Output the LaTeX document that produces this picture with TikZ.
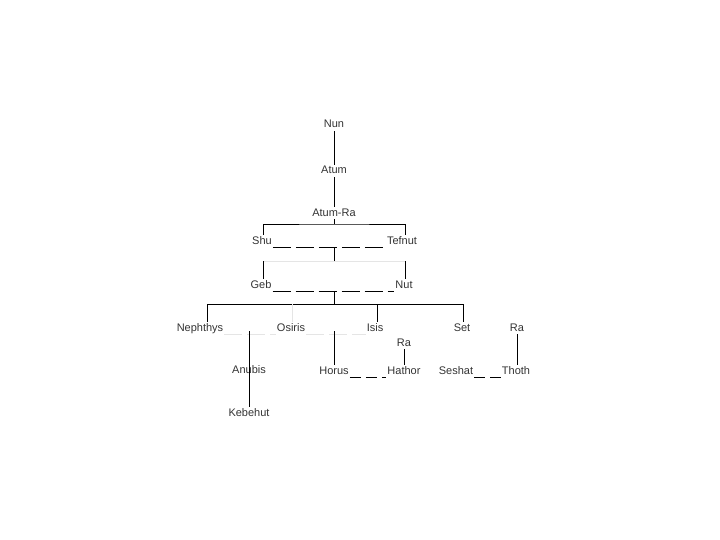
\documentclass[tikz,border=0pt]{standalone}
\usepackage{fontspec}
\setmainfont{Liberation Sans}
\begin{document}
\begin{tikzpicture}[x=1pt,y=-1pt,
  god/.style={inner sep=1pt, text height=8pt, text depth=2pt, text=black!80,
    font=\fontsize{11}{13}\selectfont},
  link/.style={draw=black, line width=0.8pt},
  marry/.style={draw=black, line width=0.8pt, dash pattern=on 18pt off 5pt},
  marryshort/.style={draw=black, line width=0.8pt, dash pattern=on 11pt off 5pt},
  faint/.style={draw=black!10, line width=0.8pt},
  faintdash/.style={draw=black!10, line width=0.8pt, dash pattern=on 18pt off 5pt}]
\useasboundingbox (0,0) rectangle (720,540);
% nodes
\node[god] (nun) at (334,125) {Nun};
\node[god] (atum) at (334,171) {Atum};
\node[god] (atumra) at (334,213) {Atum-Ra};
\node[god] (shu) at (262,241) {Shu};
\node[god] (tefnut) at (402,241) {Tefnut};
\node[god] (geb) at (261,285) {Geb};
\node[god] (nut) at (404,285) {Nut};
\node[god] (nephthys) at (200,328) {Nephthys};
\node[god] (osiris) at (291,328) {Osiris};
\node[god] (isis) at (375,328) {Isis};
\node[god] (set) at (462,328) {Set};
\node[god] (raone) at (517,328) {Ra};
\node[god] (ratwo) at (404,343) {Ra};
\node[god] (anubis) at (249,370) {Anubis};
\node[god] (kebehut) at (249,413) {Kebehut};
\node[god] (horus) at (334,371) {Horus};
\node[god] (hathor) at (404,371) {Hathor};
\node[god] (seshat) at (456,371) {Seshat};
\node[god] (thoth) at (516,371) {Thoth};
% coordinates
\coordinate (br) at (334,224);
\coordinate (m1) at (334,247);
\coordinate (m1b) at (334,261);
\coordinate (s1) at (263,261);
\coordinate (s2) at (405,261);
\coordinate (m2) at (334,291);
\coordinate (bar) at (334,304);
\coordinate (b1) at (207,304);
\coordinate (b2) at (292,304);
\coordinate (b3) at (377,304);
\coordinate (b4) at (463,304);
\coordinate (a0) at (249,331);
\coordinate (h0) at (334,331);
% connectors
\draw[link] (nun) -- (atum);
\draw[link] (atum) -- (atumra);
\draw[link] (atumra) -- (br);
\draw[link] (s1 |- shu.north) |- (br) -| (s2 |- tefnut.north);
\draw[marry] (shu.south east) -- (tefnut.south west);
\draw[link] (m1) -- (m1b);
\draw[faint] (s1) -- (s2);
\draw[link] (s1) -- (s1 |- geb.north);
\draw[link] (s2) -- (s2 |- nut.north);
\draw[marry] (geb.south east) -- (nut.south west);
\draw[link] (m2) -- (bar);
\draw[link] (b1 |- nephthys.north) -- (b1) -- (b4) -- (b4 |- set.north);
\draw[link] (b3) -- (b3 |- isis.north);
\draw[faint] (b2) -- (b2 |- osiris.north);
\draw[faintdash] (nephthys.south east) -- (osiris.south west);
\draw[faintdash] (osiris.south east) -- (isis.south west);
\draw[link] (a0) -- (kebehut);
\draw[link] (h0) -- (horus);
\draw[link] (ratwo) -- (hathor);
\draw[marryshort] (horus.south east) -- (hathor.south west);
\draw[link] (raone) -- (raone |- thoth.north);
\draw[marryshort] (seshat.south east) -- (thoth.south west);
\end{tikzpicture}
\end{document}
